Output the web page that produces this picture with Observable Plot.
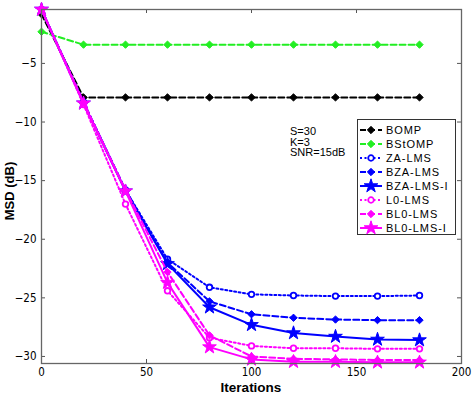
<!DOCTYPE html>
<html>
<head>
<meta charset="utf-8">
<script src="https://cdn.jsdelivr.net/npm/d3@7"></script>
<script src="https://cdn.jsdelivr.net/npm/@observablehq/plot@0.6"></script>
<style>
  html, body { margin: 0; padding: 0; background: #fff; }
  #chart svg { display: block; }
</style>
</head>
<body>
<div id="chart"></div>
<script>
// ---- data ----
const iterations = [0, 20, 40, 60, 80, 100, 120, 140, 160, 180];
const seriesNames = ["BOMP", "BStOMP", "ZA-LMS", "BZA-LMS", "BZA-LMS-I", "L0-LMS", "BL0-LMS", "BL0-LMS-I"];
const BOMP      = [-0.8, -7.9, -7.9, -7.9, -7.9, -7.9, -7.9, -7.9, -7.9, -7.9];
const BStOMP    = [-2.3, -3.4, -3.4, -3.4, -3.4, -3.4, -3.4, -3.4, -3.4, -3.4];
const ZA_LMS    = [-0.4, -8.3, -15.8, -21.7, -24.1, -24.7, -24.8, -24.85, -24.85, -24.8];
const BZA_LMS   = [-0.4, -8.3, -15.8, -22.0, -25.3, -26.4, -26.7, -26.85, -26.9, -26.9];
const BZA_LMS_I = [-0.4, -8.4, -15.9, -22.1, -25.8, -27.3, -28.0, -28.3, -28.55, -28.6];
const L0_LMS    = [-0.4, -8.5, -17.0, -24.4, -28.4, -29.1, -29.3, -29.3, -29.35, -29.35];
const BL0_LMS   = [-0.4, -8.3, -15.8, -22.8, -28.2, -30.0, -30.2, -30.25, -30.3, -30.3];
const BL0_LMS_I = [-0.4, -8.4, -15.9, -23.7, -29.2, -30.25, -30.45, -30.45, -30.5, -30.5];
const seriesValues = [BOMP, BStOMP, ZA_LMS, BZA_LMS, BZA_LMS_I, L0_LMS, BL0_LMS, BL0_LMS_I];
const xTicks = [0, 50, 100, 150, 200];
const yTicks = [-30, -25, -20, -15, -10, -5];
const annotation = ["S=30", "K=3", "SNR=15dB"];
const xLabel = "Iterations";
const yLabel = "MSD (dB)";

// ---- styles ----
const styles = [
  {color: "#000000", dash: "6,3", symbol: "diamond2", filled: true, r: 3.3},
  {color: "#22ee22", dash: "6,3", symbol: "diamond2", filled: true, r: 3.3},
  {color: "#0000ff", dash: "2,2.5", symbol: "circle", filled: false, r: 2.8},
  {color: "#0000ff", dash: "6,3", symbol: "diamond2", filled: true, r: 3.3},
  {color: "#0000ff", dash: null, symbol: "star", filled: true, r: 4.3},
  {color: "#ff00ff", dash: "2,2.5", symbol: "circle", filled: false, r: 2.8},
  {color: "#ff00ff", dash: "6,3", symbol: "diamond2", filled: true, r: 3.3},
  {color: "#ff00ff", dash: null, symbol: "star", filled: true, r: 4.3}
];

const W = 474, H = 397;
const mL = 41, mR = 13, mT = 9, mB = 34;
const plotW = W - mL - mR, plotH = H - mT - mB;

const marks = [];
seriesNames.forEach((name, i) => {
  const rows = iterations.map((x, j) => ({x, y: seriesValues[i][j]}));
  const s = styles[i];
  marks.push(Plot.line(rows, {x: "x", y: "y", stroke: s.color, strokeWidth: 2,
    strokeDasharray: s.dash || undefined}));
  marks.push(Plot.dot(rows, {x: "x", y: "y", symbol: s.symbol, r: s.r,
    fill: s.filled ? s.color : "white", stroke: s.color, strokeWidth: s.filled ? 1 : 1.8}));
});

const svg = Plot.plot({
  width: W, height: H,
  marginLeft: mL, marginRight: mR, marginTop: mT, marginBottom: mB,
  style: {fontFamily: "'Liberation Sans Narrow', 'DejaVu Sans Condensed', 'Liberation Sans', sans-serif", fontSize: "11.5px", color: "#000", background: "#fff"},
  x: {domain: [0, 200]},
  y: {domain: [-30.6, -0.4]},
  marks: [
    Plot.axisX(xTicks, {tickSize: 0, tickPadding: 4, label: null}),
    Plot.axisY(yTicks, {tickSize: 0, tickPadding: 5, label: null}),
    Plot.tickX(xTicks, {x: d => d, insetTop: plotH - 4, stroke: "#555"}),
    Plot.tickX(xTicks, {x: d => d, insetBottom: plotH - 4, stroke: "#555"}),
    Plot.tickY(yTicks, {y: d => d, insetRight: plotW - 4, stroke: "#555"}),
    Plot.tickY(yTicks, {y: d => d, insetLeft: plotW - 4, stroke: "#555"}),
    ...marks,
    Plot.frame({stroke: "#666", strokeWidth: 1.3})
  ]
});

const root = d3.select(svg);
// axis labels
root.append("text").attr("x", mL + plotW / 2).attr("y", 392)
  .attr("text-anchor", "middle").attr("font-family", "'Liberation Sans', sans-serif")
  .attr("font-weight", "bold").attr("font-size", 13.5).text(xLabel);
root.append("text").attr("transform", `translate(14,${mT + plotH / 2 + 5}) rotate(-90)`)
  .attr("text-anchor", "middle").attr("font-family", "'Liberation Sans', sans-serif")
  .attr("font-weight", "bold").attr("font-size", 13).text(yLabel);

// annotation
annotation.forEach((t, i) => {
  root.append("text").attr("x", 290).attr("y", 135 + i * 10.5)
    .attr("text-anchor", "start")
    .attr("font-family", "'Liberation Sans', sans-serif").attr("font-size", 11).text(t);
});

// legend
const lg = root.append("g");
lg.append("rect").attr("x", 357.5).attr("y", 119.5).attr("width", 98).attr("height", 115)
  .attr("fill", "white").attr("stroke", "#333").attr("stroke-width", 1);
const symMap = {diamond2: d3.symbolDiamond2, circle: d3.symbolCircle, star: d3.symbolStar};
seriesNames.forEach((name, i) => {
  const s = styles[i];
  const y = 130 + i * 14;
  lg.append("line").attr("x1", 360).attr("x2", 382).attr("y1", y).attr("y2", y)
    .attr("stroke", s.color).attr("stroke-width", 2)
    .attr("stroke-dasharray", s.dash || null);
  lg.append("path").attr("transform", `translate(371,${y})`)
    .attr("d", d3.symbol(symMap[s.symbol], Math.PI * s.r * s.r)())
    .attr("fill", s.filled ? s.color : "white").attr("stroke", s.color)
    .attr("stroke-width", s.filled ? 1 : 1.8);
  lg.append("text").attr("x", 386).attr("y", y + 4)
    .attr("text-anchor", "start")
    .attr("font-family", "'Liberation Sans', sans-serif").attr("font-size", 11)
    .attr("letter-spacing", "0.9px").text(name);
});

document.getElementById("chart").appendChild(svg);
</script>
</body>
</html>
